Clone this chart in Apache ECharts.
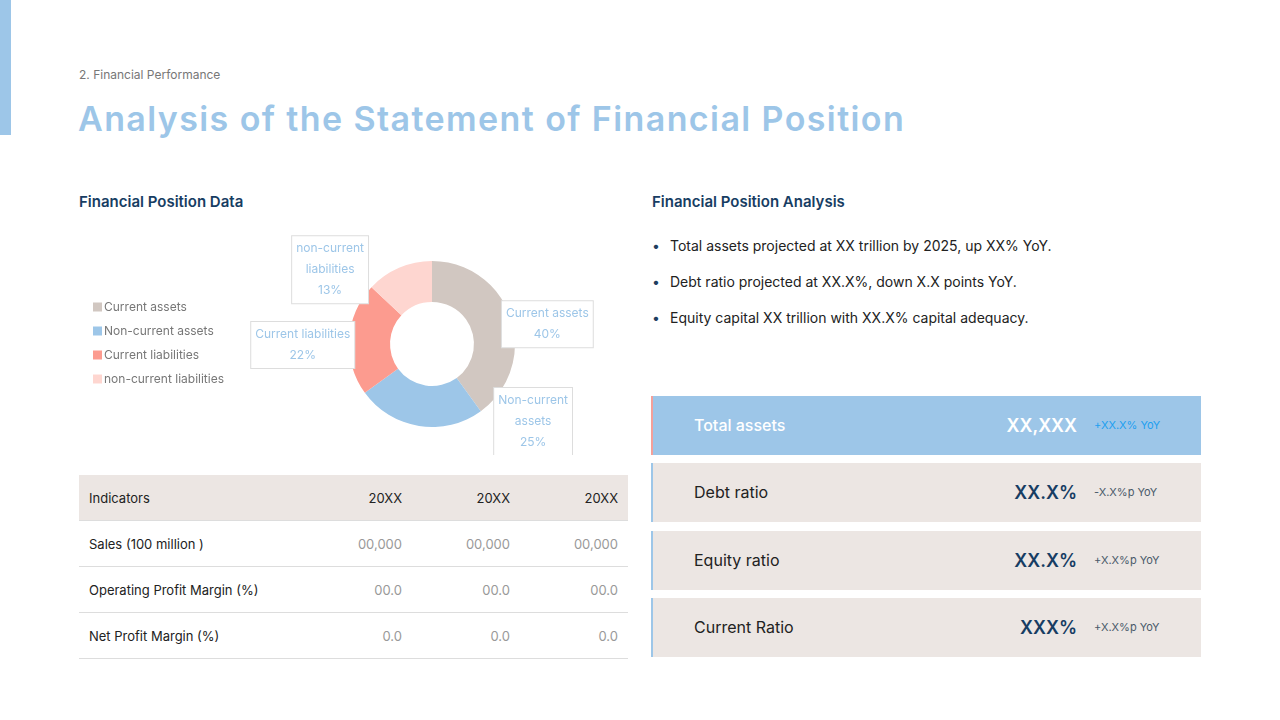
<!DOCTYPE html>
<html>
<head>
<meta charset="utf-8">
<script src="https://cdn.jsdelivr.net/npm/echarts@6/dist/echarts.min.js"></script>
<style>
body{margin:0;width:1280px;height:720px;background:#fff;font-family:Inter,"Noto Sans",sans-serif;position:relative;overflow:hidden;}
.bar{position:absolute;left:0;top:0;width:11px;height:135px;background:#9dc6e8;}
.crumb{position:absolute;left:79px;top:67px;font-size:12px;color:#777;}
.title{position:absolute;left:78px;top:98px;font-size:34px;font-weight:600;color:#9dc6e8;letter-spacing:1.4px;white-space:nowrap;}
.sub{position:absolute;top:192px;font-size:15px;font-weight:600;color:#173d63;}
#pie{position:absolute;left:79px;top:225px;width:549px;height:230px;}
table{position:absolute;left:79px;top:475px;width:549px;border-collapse:collapse;font-size:13px;}
td{height:45px;padding:0 10px;border-bottom:1px solid #ddd;text-align:right;color:#999;}
td:first-child{text-align:left;color:#222;width:205px;}
tr.head td{background:#ece6e3;color:#222;}
ul{position:absolute;left:652px;top:228px;margin:0;padding:0;list-style:none;font-size:14px;color:#222;}
li{height:36px;line-height:36px;position:relative;padding-left:18px;}
li:before{content:"\2022";position:absolute;left:0;color:#1f3e5f;}
.card{position:absolute;left:651px;width:548px;height:59px;background:#ece6e3;border-left:2px solid #9dc6e8;}
.card .lab{position:absolute;left:41px;top:0;line-height:59px;font-size:16px;color:#222;}
.card .val{position:absolute;right:124px;top:0;line-height:59px;font-size:18px;font-weight:600;color:#173d63;}
.card .yoy{position:absolute;left:441px;top:0;line-height:59px;font-size:11px;color:#4a5a6a;}
.card.first{background:#9dc6e8;border-left-color:#f4a09a;}
.card.first .lab{color:#fff;font-weight:500;}
.card.first .val{color:#fff;}
.card.first .yoy{color:#1ea0f0;}
</style>
</head>
<body>
<div class="bar"></div>
<div class="crumb">2. Financial Performance</div>
<div class="title">Analysis of the Statement of Financial Position</div>
<div class="sub" style="left:79px">Financial Position Data</div>
<div class="sub" style="left:652px">Financial Position Analysis</div>
<div id="pie"></div>
<table id="tbl"></table>
<ul id="notes"></ul>
<div id="cards"></div>
<script>
// 도넛 데이터
var sliceNames = ['Current assets', 'Non-current assets', 'Current liabilities', 'non-current liabilities'];
var sliceLabels = [['Current assets'], ['Non-current', 'assets'], ['Current liabilities'], ['non-current', 'liabilities']];
var sliceValues = [40, 25, 22, 13];
var sliceColors = ['#d1c7c1', '#9dc6e8', '#fc9b8f', '#fed6d0'];

// 표 데이터
var tableHead = ['Indicators', '20XX', '20XX', '20XX'];
var tableRows = ['Sales (100 million )', 'Operating Profit Margin (%)', 'Net Profit Margin (%)'];
var tableVals = [['00,000', '00,000', '00,000'], ['00.0', '00.0', '00.0'], ['0.0', '0.0', '0.0']];

// 분석 문장
var notes = [
    'Total assets projected at XX trillion by 2025, up XX% YoY.',
    'Debt ratio projected at XX.X%, down X.X points YoY.',
    'Equity capital XX trillion with XX.X% capital adequacy.'
];

// 지표 카드
var cardNames = ['Total assets', 'Debt ratio', 'Equity ratio', 'Current Ratio'];
var cardVals = ['XX,XXX', 'XX.X%', 'XX.X%', 'XXX%'];
var cardYoy = ['+XX.X% YoY', '-X.X%p YoY', '+X.X%p YoY', '+X.X%p YoY'];

var html = '<tr class="head">';
for (var i = 0; i < tableHead.length; i++) html += '<td>' + tableHead[i] + '</td>';
html += '</tr>';
for (var r = 0; r < tableRows.length; r++) {
    html += '<tr><td>' + tableRows[r] + '</td>';
    for (var c = 0; c < tableVals[r].length; c++) html += '<td>' + tableVals[r][c] + '</td>';
    html += '</tr>';
}
document.getElementById('tbl').innerHTML = html;

var ul = '';
for (var n = 0; n < notes.length; n++) ul += '<li>' + notes[n] + '</li>';
document.getElementById('notes').innerHTML = ul;

var cards = '';
for (var k = 0; k < cardNames.length; k++) {
    cards += '<div class="card' + (k == 0 ? ' first' : '') + '" style="top:' + (396 + k * 67.3) + 'px">' +
        '<span class="lab">' + cardNames[k] + '</span>' +
        '<span class="val">' + cardVals[k] + '</span>' +
        '<span class="yoy">' + cardYoy[k] + '</span></div>';
}
document.getElementById('cards').innerHTML = cards;

var pieData = [];
for (var p = 0; p < sliceNames.length; p++) {
    pieData.push({ name: sliceNames[p], value: sliceValues[p] });
}

// 라벨 위치 미세조정 (원본 배치에 맞춤)
var labelNudge = [[-14, 6], [158, 2], [5, 8], [-26, 2]];

var myChart = echarts.init(document.getElementById('pie'));
var option = {
    animation: false,
    color: sliceColors,
    legend: {
        orient: 'vertical',
        left: 9,
        top: 71,
        itemWidth: 9,
        itemHeight: 9,
        itemGap: 12,
        icon: 'rect',
        textStyle: {
            color: '#777',
            fontSize: 12,
            fontFamily: 'Inter',
            padding: [0, 0, 0, -3]
        },
        data: sliceNames
    },
    series: [{
        type: 'pie',
        center: [353, 119],
        radius: [42, 83],
        startAngle: 90,
        clockwise: true,
        data: pieData,
        label: {
            position: 'outside',
            formatter: function (prm) {
                var lines = sliceLabels[prm.dataIndex].concat([prm.percent + '%']);
                return lines.map(function (s) { return '{t|' + s + '}'; }).join('\n');
            },
            rich: {
                t: {
                    align: 'center',
                    color: '#9dc6e8',
                    fontSize: 12,
                    fontFamily: 'Inter',
                    lineHeight: 21
                }
            },
            backgroundColor: '#fff',
            borderColor: '#ddd',
            borderWidth: 1,
            padding: [2, 4]
        },
        labelLine: {
            show: false,
            length: 0,
            length2: 0
        },
        labelLayout: function (prm) {
            var d = labelNudge[prm.dataIndex];
            return { dx: d[0], dy: d[1] };
        }
    }]
};
myChart.setOption(option);
</script>
</body>
</html>
